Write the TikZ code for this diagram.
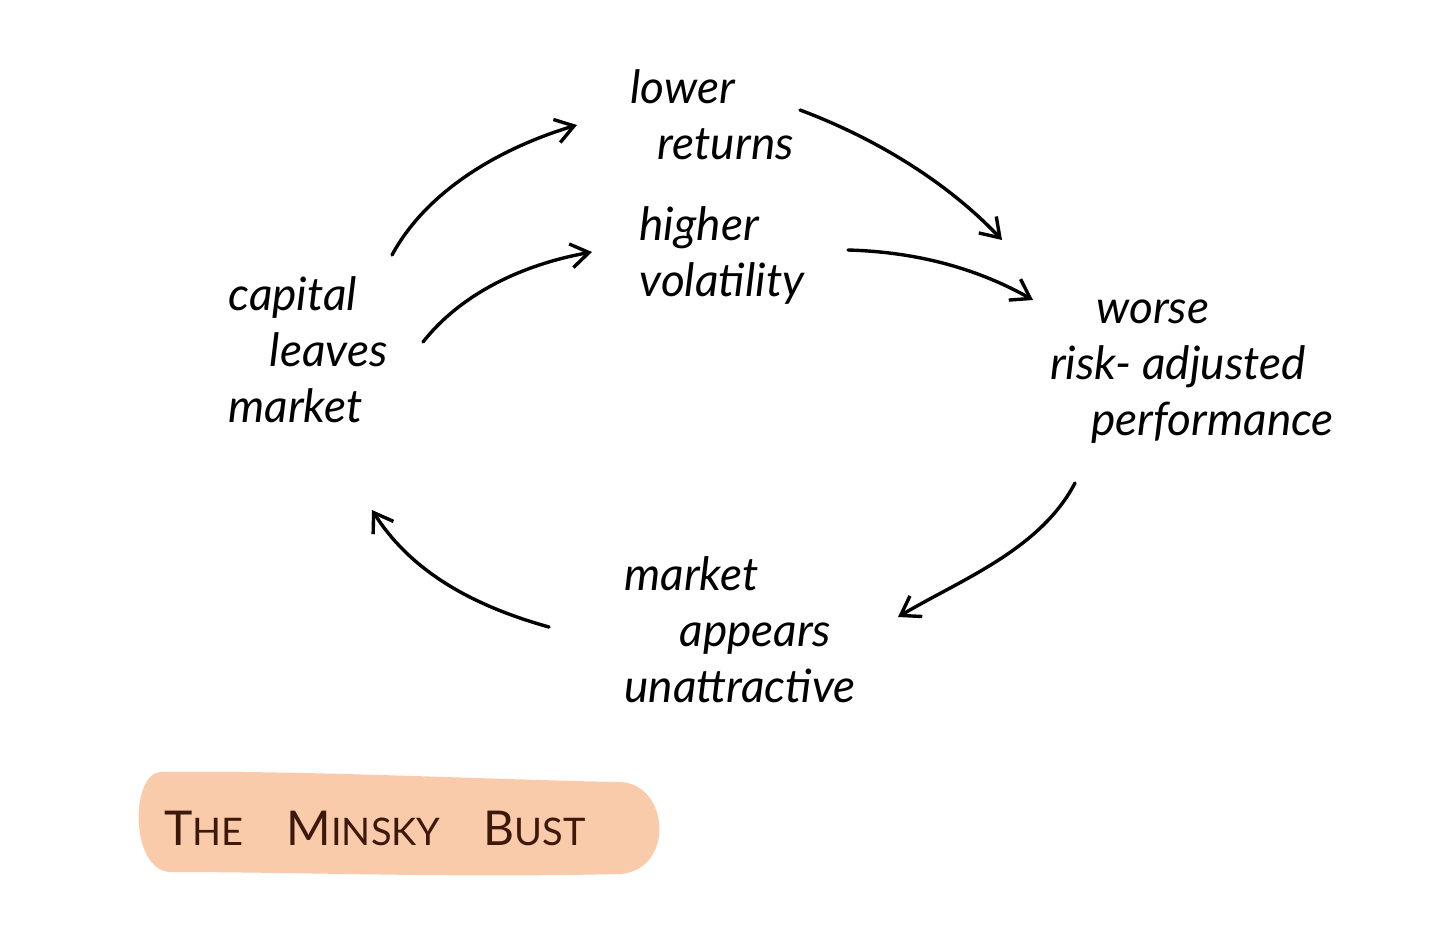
\documentclass[tikz,border=0pt]{standalone}
\usepackage{fontspec}
\setmainfont{Lato}
\usetikzlibrary{arrows.meta}
\definecolor{peach}{RGB}{250,203,170}
\definecolor{ink}{RGB}{60,25,10}
\newcommand{\smc}[1]{{\fontsize{19}{22}\selectfont #1}}
\begin{document}
\begin{tikzpicture}[x=0.5pt,y=-0.5pt,
  lbl/.style={font=\fontsize{23}{28}\selectfont\itshape, align=left, inner sep=0},
  arr/.style={-{Straight Barb[length=9pt,width=12pt]}, line width=1.7pt, line cap=round}]
\useasboundingbox (0,0) rectangle (1456,938);
\node[lbl] (lr) at (712,115) {lower\\\hspace{0.6em}returns};
\node[lbl] (hv) at (722,255) {higher\\volatility};
\node[lbl] (cl) at (308,350) {capital\\\hspace{0.9em}leaves\\market};
\node[lbl] (wr) at (1192,372) {\hspace{1.0em}worse\\risk- adjusted\\\hspace{0.9em}performance};
\node[lbl] (ma) at (740,630) {market\\\hspace{1.2em}appears\\unattractive};
\coordinate (a1) at (392,255); \coordinate (b1) at (577,125);
\coordinate (a2) at (423,342); \coordinate (b2) at (592,252);
\coordinate (a3) at (800,110); \coordinate (b3) at (1002,240);
\coordinate (a4) at (848,250); \coordinate (b4) at (1033,300);
\coordinate (a5) at (1075,483); \coordinate (b5) at (898,617);
\coordinate (a6) at (549,627); \coordinate (b6) at (372,510);
\draw[arr] (a1) .. controls (430,185) and (510,145) .. (b1);
\draw[arr] (a2) .. controls (460,295) and (520,265) .. (b2);
\draw[arr] (a3) .. controls (880,140) and (950,185) .. (b3);
\draw[arr] (a4) .. controls (920,252) and (980,270) .. (b4);
\draw[arr] (a5) .. controls (1040,550) and (960,580) .. (b5);
\draw[arr] (a6) .. controls (470,605) and (410,570) .. (b6);
\fill[peach] (160,772) .. controls (300,770) and (500,780) .. (620,782)
  .. controls (670,784) and (675,870) .. (620,874)
  .. controls (450,878) and (300,872) .. (170,872)
  .. controls (130,870) and (130,775) .. (160,772);
\node[font=\fontsize{24}{28}\selectfont, text=ink, inner sep=0] (t) at (375,828) {T\smc{HE}\hspace{0.9em}M\smc{INSKY}\hspace{0.9em}B\smc{UST}};
\end{tikzpicture}
\end{document}
